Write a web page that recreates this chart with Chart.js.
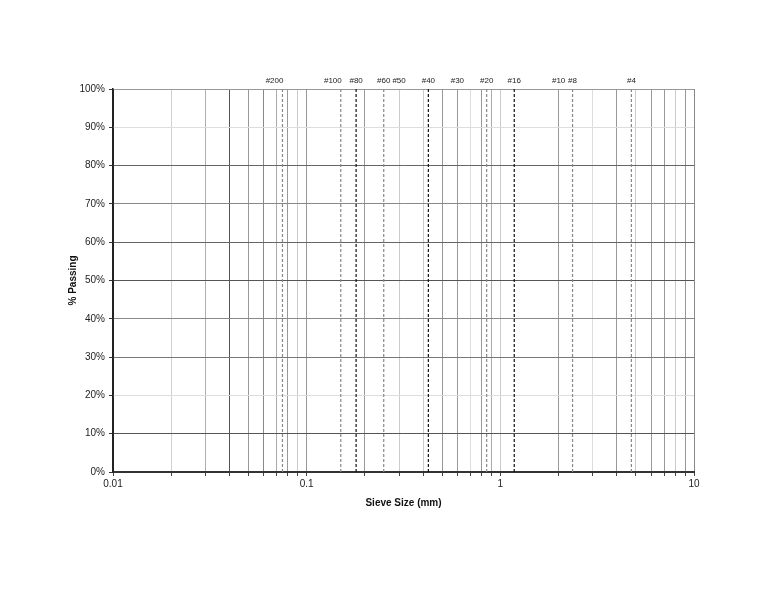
<!DOCTYPE html>
<html><head><meta charset="utf-8">
<script src="https://cdn.jsdelivr.net/npm/chart.js@4/dist/chart.umd.min.js"></script>
<style>html,body{margin:0;padding:0;background:#fff;}canvas{display:block;}</style>
</head><body>
<canvas id="c" width="768" height="594"></canvas>
<script>
// ---- data ----
const sieveLabels = ['#200', '#100', '#80', '#60', '#50', '#40', '#30', '#20', '#16', '#10', '#8', '#4'];
const sieveSizes  = [0.075, 0.15, 0.18, 0.25, 0.3, 0.425, 0.6, 0.85, 1.18, 2.0, 2.36, 4.75];
const dashedSieves = [0.075, 0.15, 0.18, 0.25, 0.425, 0.85, 1.18, 2.36, 4.75];
const xGridValues = [0.01, 0.02, 0.03, 0.04, 0.05, 0.06, 0.07, 0.08, 0.09,
                     0.1, 0.2, 0.3, 0.4, 0.5, 0.6, 0.7, 0.8, 0.9,
                     1, 2, 3, 4, 5, 6, 7, 8, 9, 10];
const xTickLabels = ['0.01', '0.1', '1', '10'];
const yTickValues = [0, 10, 20, 30, 40, 50, 60, 70, 80, 90, 100];

// ---- styles ----
const xGridShade = {
  '0.01':'#222','0.02':'#d0d0d0','0.03':'#b0b0b0','0.04':'#555','0.05':'#999','0.06':'#888',
  '0.07':'#aaa','0.08':'#999','0.09':'#ccc','0.1':'#999','0.2':'#999','0.3':'#ccc',
  '0.4':'#ccc','0.5':'#999','0.6':'#999','0.7':'#ddd','0.8':'#999','0.9':'#aaa',
  '1':'#ccc','2':'#999','3':'#ddd','4':'#999','5':'#ccc','6':'#999','7':'#999',
  '8':'#ccc','9':'#999','10':'#888'
};
const yGridShade = {0:'#222',10:'#555',20:'#ddd',30:'#777',40:'#888',50:'#555',60:'#666',70:'#888',80:'#666',90:'#ddd',100:'#999'};
const darkDashed = [0.18, 0.425, 1.18];

const datasets = dashedSieves.map(s => ({
  label: String(s),
  data: [{x: s, y: 0}, {x: s, y: 100}],
  showLine: true,
  pointRadius: 0,
  borderWidth: 1.2,
  borderDash: [3, 2],
  borderColor: darkDashed.includes(s) ? '#111' : '#888',
  fill: false
}));

const sieveLabelPlugin = {
  id: 'sieveLabels',
  beforeDraw(chart) {
    const c = chart.ctx;
    c.save();
    c.fillStyle = '#fff';
    c.fillRect(0, 0, chart.width, chart.height);
    c.restore();
  },
  afterDraw(chart) {
    const c = chart.ctx;
    const xs = chart.scales.x;
    const top = chart.chartArea.top;
    c.save();
    c.font = '8px "Liberation Sans", Arial, sans-serif';
    c.fillStyle = '#222';
    c.textBaseline = 'middle';
    sieveLabels.forEach((lab, i) => {
      const px = xs.getPixelForValue(sieveSizes[i]);
      if (lab.length > 3) { c.textAlign = 'right'; c.fillText(lab, px + 1, top - 8); }
      else { c.textAlign = 'center'; c.fillText(lab, px, top - 8); }
    });
    c.restore();
  }
};

new Chart(document.getElementById('c'), {
  type: 'scatter',
  data: { datasets },
  options: {
    responsive: false,
    animation: false,
    devicePixelRatio: 1,
    layout: { padding: { top: 89, right: 74, bottom: 80, left: 60 } },
    plugins: { legend: { display: false }, tooltip: { enabled: false } },
    scales: {
      x: {
        type: 'logarithmic',
        min: 0.01, max: 10,
        afterBuildTicks(scale) { scale.ticks = xGridValues.map(v => ({ value: v })); },
        afterFit(scale) { scale.height = 42; },
        ticks: {
          autoSkip: false, maxRotation: 0, minRotation: 0, padding: 2,
          color: '#222',
          font: { family: '"Liberation Sans", Arial, sans-serif', size: 10 },
          callback: (v) => { const s = String(v); return xTickLabels.includes(s) ? s : ''; }
        },
        grid: {
          color: (ctx) => (ctx.tick ? (xGridShade[String(ctx.tick.value)] || '#999') : '#999'),
          lineWidth: 1,
          tickLength: 4,
          tickColor: '#444'
        },
        border: { display: true, color: '#333', width: 2 },
        title: {
          display: true, text: 'Sieve Size (mm)', color: '#111',
          font: { family: '"Liberation Sans", Arial, sans-serif', size: 10, weight: 'bold' },
          padding: { top: 0, bottom: 5 }
        }
      },
      y: {
        type: 'linear',
        min: 0, max: 100,
        afterBuildTicks(scale) { scale.ticks = yTickValues.map(v => ({ value: v })); },
        afterFit(scale) { scale.width = 53; },
        ticks: {
          padding: 4, color: '#222',
          font: { family: '"Liberation Sans", Arial, sans-serif', size: 10 },
          callback: (v) => v + '%'
        },
        grid: {
          color: (ctx) => (ctx.tick ? (yGridShade[ctx.tick.value] || '#888') : '#888'),
          lineWidth: 1,
          tickLength: 4,
          tickColor: '#333'
        },
        border: { display: true, color: '#222', width: 1.5 },
        title: {
          display: true, text: '% Passing', color: '#111',
          font: { family: '"Liberation Sans", Arial, sans-serif', size: 10, weight: 'bold' },
          padding: { top: 7, bottom: 0 }
        }
      }
    }
  },
  plugins: [sieveLabelPlugin]
});
</script>
</body></html>
